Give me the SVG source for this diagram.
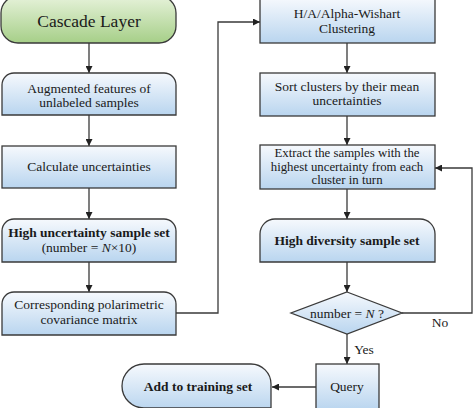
<svg xmlns="http://www.w3.org/2000/svg" width="474" height="408" viewBox="0 0 474 408">
<style>
.bx{stroke:#3a3a3a;stroke-width:1.3;fill:url(#gb)}
.gr{stroke:#3a3a3a;stroke-width:1.3;fill:url(#gg)}
.t{font-family:"Liberation Serif","Times New Roman",serif;font-size:13.5px;fill:#1a1a1a;text-anchor:middle}
.b{font-weight:bold}
.big{font-size:17.5px}
.sm{font-size:12.8px}
.ln{stroke:#3a3a3a;stroke-width:1.3;fill:none}
.ar{marker-end:url(#ah)}
</style>
<defs>
<linearGradient id="gb" x1="0" y1="0" x2="0" y2="1">
<stop offset="0" stop-color="#f6f9fd"/>
<stop offset="1" stop-color="#b9d5ef"/>
</linearGradient>
<linearGradient id="gg" x1="0" y1="0" x2="0" y2="1">
<stop offset="0" stop-color="#e6f2da"/>
<stop offset="1" stop-color="#a6cf88"/>
</linearGradient>
<marker id="ah" viewBox="0 0 10 10" refX="10" refY="5" markerWidth="7" markerHeight="7" markerUnits="userSpaceOnUse" orient="auto">
<path d="M0,0 L10,5 L0,10 Z" fill="#222"/>
</marker>
</defs>
<rect width="474" height="408" fill="#fff"/>
<g id="connectors">
<line class="ln ar" x1="89" y1="43" x2="89" y2="73"/>
<line class="ln ar" x1="89" y1="115" x2="89" y2="146"/>
<line class="ln ar" x1="89" y1="188" x2="89" y2="219"/>
<line class="ln ar" x1="89" y1="262" x2="89" y2="292"/>
<polyline class="ln ar" points="176,313 218,313 218,22 260,22"/>
<line class="ln ar" x1="347" y1="43" x2="347" y2="73"/>
<line class="ln ar" x1="347" y1="116" x2="347" y2="145"/>
<line class="ln ar" x1="347" y1="189" x2="347" y2="219"/>
<line class="ln ar" x1="347" y1="262" x2="347" y2="292"/>
<line class="ln ar" x1="347" y1="334" x2="347" y2="364"/>
<line class="ln ar" x1="316" y1="387" x2="272" y2="387"/>
<polyline class="ln ar" points="402,313 472,313 472,168 435,168"/>
<text class="t" x="364" y="354" font-size="12.5">Yes</text>
<text class="t" x="440" y="327" font-size="12.5">No</text>
</g>
<g id="cascade">
<rect class="gr" x="1" y="-4" width="175" height="47" rx="17"/>
<text class="t big" x="89" y="27">Cascade Layer</text>
</g>
<g id="augmented">
<path class="bx" d="M2,115 V85 A12,12 0 0 1 14,73 H164 A12,12 0 0 1 176,85 V115 Z"/>
<text class="t" x="89" y="93">Augmented features of</text>
<text class="t" x="89" y="107">unlabeled samples</text>
</g>
<g id="calculate">
<rect class="bx" x="2" y="146" width="174" height="42"/>
<text class="t" x="89" y="171">Calculate uncertainties</text>
</g>
<g id="high-uncertainty">
<path class="bx" d="M2,262 V231 A12,12 0 0 1 14,219 H164 A12,12 0 0 1 176,231 V262 Z"/>
<text class="t b" x="89" y="237">High uncertainty sample set</text>
<text class="t" x="89" y="252">(number = <tspan font-style="italic">N</tspan>×10)</text>
</g>
<g id="corresponding">
<path class="bx" d="M2,335 V304 A12,12 0 0 1 14,292 H164 A12,12 0 0 1 176,304 V335 Z"/>
<text class="t" x="89" y="309">Corresponding polarimetric</text>
<text class="t" x="89" y="324">covariance matrix</text>
</g>
<g id="add-training">
<path class="bx" d="M271,410 V384 A20,20 0 0 0 251,364 H144 A22,22 0 0 0 122,386 A22,22 0 0 0 144,408 H271"/>
<text class="t b" x="198" y="391">Add to training set</text>
</g>
<g id="clustering">
<rect class="bx" x="260" y="-2" width="175" height="45"/>
<text class="t" x="347" y="18">H/A/Alpha-Wishart</text>
<text class="t" x="347" y="33">Clustering</text>
</g>
<g id="sort">
<rect class="bx" x="260" y="73" width="175" height="43"/>
<text class="t" x="347" y="91">Sort clusters by their mean</text>
<text class="t" x="347" y="105">uncertainties</text>
</g>
<g id="extract">
<rect class="bx" x="260" y="145" width="175" height="44"/>
<text class="t sm" x="347" y="157">Extract the samples with the</text>
<text class="t sm" x="347" y="170.5">highest uncertainty from each</text>
<text class="t sm" x="347" y="184">cluster in turn</text>
</g>
<g id="high-diversity">
<path class="bx" d="M260,262 V234 A15,15 0 0 1 275,219 H420 A15,15 0 0 1 435,234 V262 Z"/>
<text class="t b" x="347" y="245">High diversity sample set</text>
</g>
<g id="decision">
<polygon class="bx" points="347,292 402,313 347,334 291,313"/>
<text class="t" x="347" y="318">number  = <tspan font-style="italic">N</tspan> ?</text>
</g>
<g id="query">
<rect class="bx" x="316" y="364" width="63" height="46"/>
<text class="t" x="347" y="391">Query</text>
</g>
</svg>
